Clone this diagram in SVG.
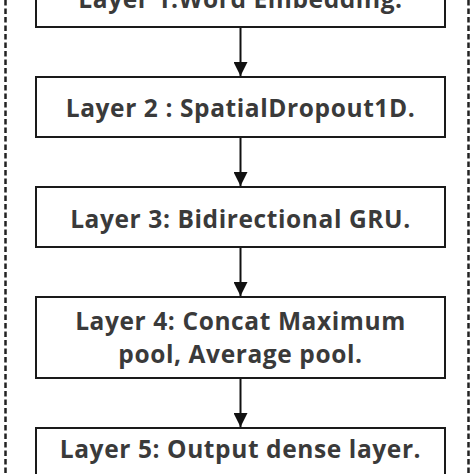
<svg xmlns="http://www.w3.org/2000/svg" width="474" height="474" viewBox="0 0 474 474">
<defs>
<marker id="ah" markerWidth="16" markerHeight="14" refX="14" refY="7" orient="auto" markerUnits="userSpaceOnUse">
<path d="M0,0 L14,7 L0,14 Z" fill="#111"/>
</marker>
<style>
.box{fill:#fff;stroke:#1a1a1a;stroke-width:2}
.t{font-family:"Open Sans","Noto Sans",sans-serif;font-weight:bold;font-size:24.5px;letter-spacing:0.6px;fill:#3a3a3a;text-anchor:middle}
.c{stroke:#111;stroke-width:2;fill:none}
.frame{stroke:#222;stroke-width:2.5;stroke-dasharray:5.5 3;fill:none}
</style>
</defs>
<rect width="474" height="474" fill="#fff"/>
<g id="frame">
<line class="frame" x1="5.5" y1="0" x2="5.5" y2="474"/>
<line class="frame" x1="468.5" y1="0" x2="468.5" y2="474"/>
</g>
<g id="connectors">
<line class="c" x1="240.5" y1="28" x2="240.5" y2="76" marker-end="url(#ah)"/>
<line class="c" x1="240.5" y1="138" x2="240.5" y2="186" marker-end="url(#ah)"/>
<line class="c" x1="240.5" y1="248" x2="240.5" y2="296" marker-end="url(#ah)"/>
<line class="c" x1="240.5" y1="379" x2="240.5" y2="427" marker-end="url(#ah)"/>
</g>
<g id="n1">
<rect class="box" x="36" y="-40" width="409" height="67"/>
<text class="t" x="240.5" y="8">Layer 1.Word Embedding.</text>
</g>
<g id="n2">
<rect class="box" x="36" y="77" width="409" height="60"/>
<text class="t" x="240.5" y="117">Layer 2 : SpatialDropout1D.</text>
</g>
<g id="n3">
<rect class="box" x="36" y="187" width="409" height="60"/>
<text class="t" x="240.5" y="228">Layer 3: Bidirectional GRU.</text>
</g>
<g id="n4">
<rect class="box" x="36" y="297" width="409" height="81"/>
<text class="t" x="240.5" y="330">Layer 4: Concat Maximum</text>
<text class="t" x="240.5" y="363">pool, Average pool.</text>
</g>
<g id="n5">
<rect class="box" x="36" y="428" width="409" height="80"/>
<text class="t" x="240.5" y="458">Layer 5: Output dense layer.</text>
</g>
</svg>
